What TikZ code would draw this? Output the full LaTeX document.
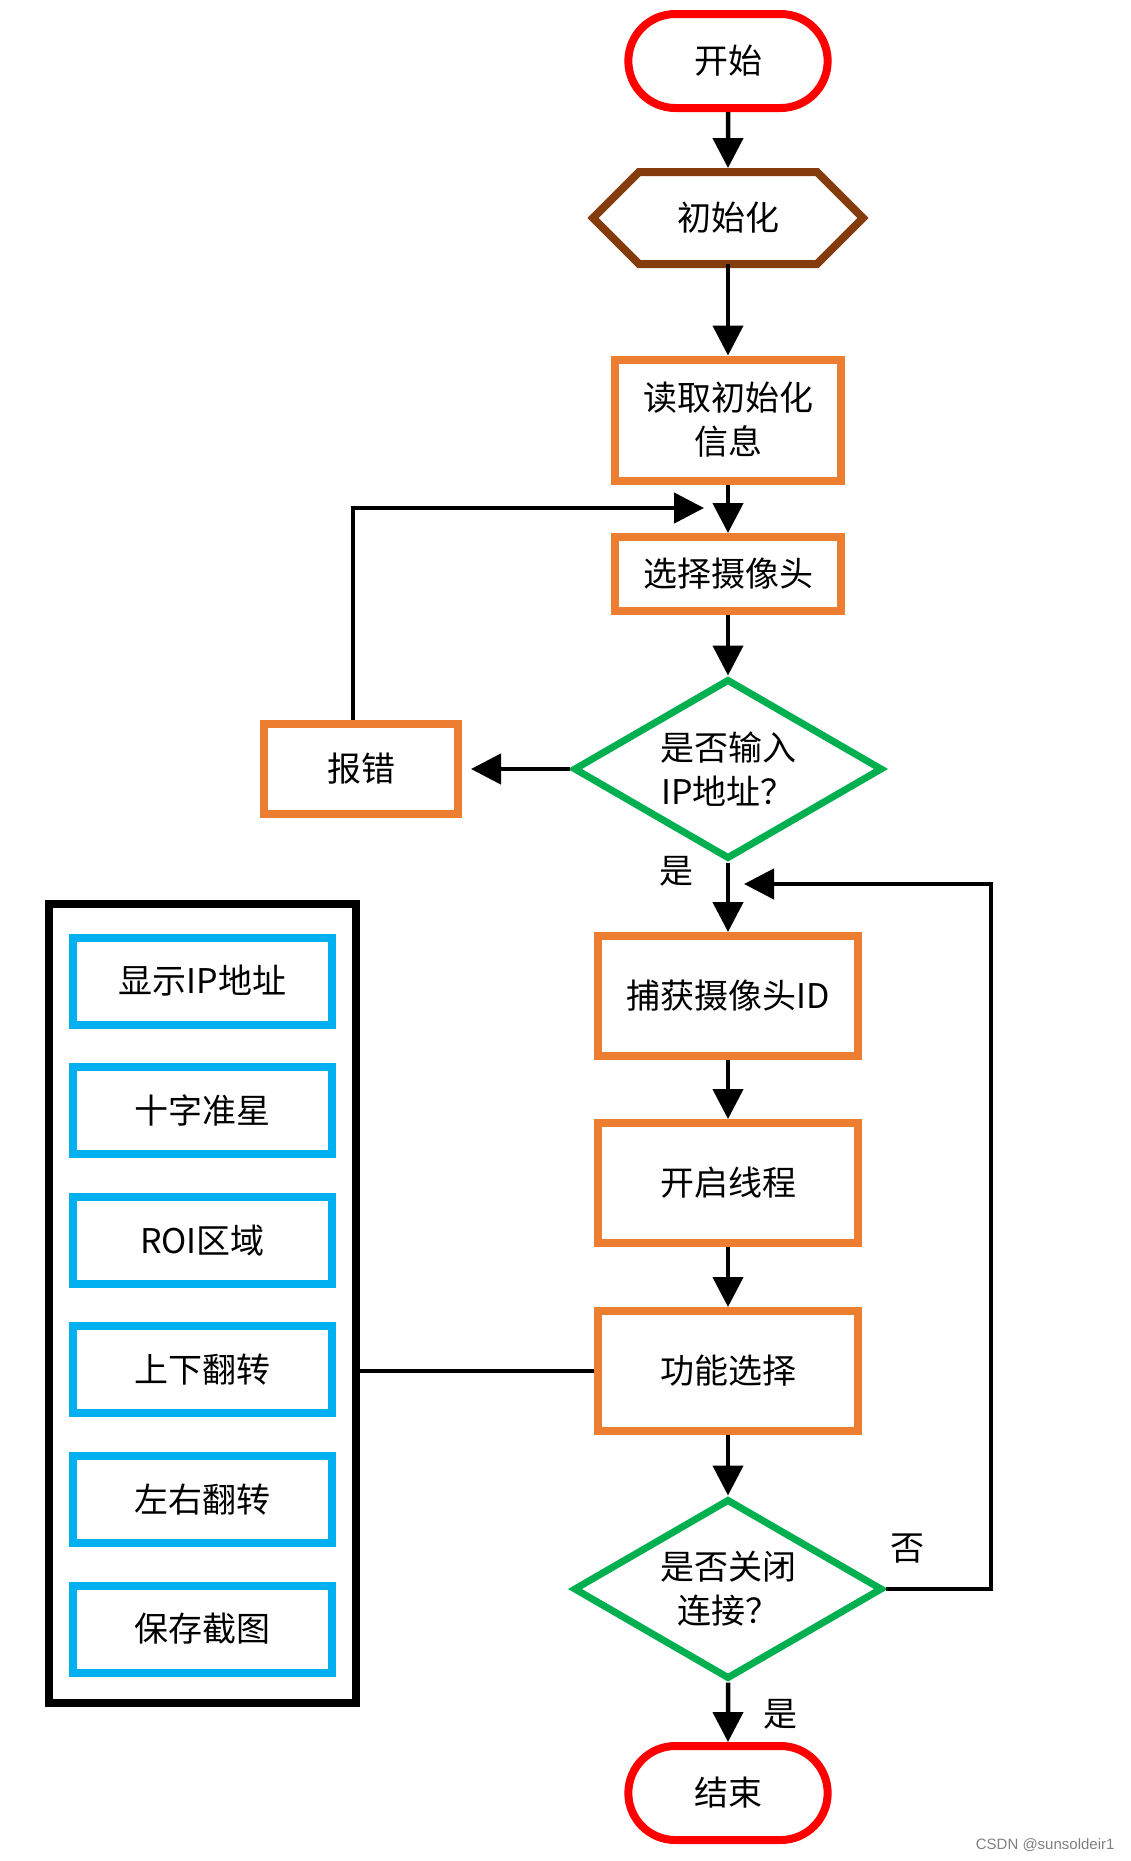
\documentclass[tikz,border=0pt]{standalone}
\usepackage{fontspec}
\setmainfont{Noto Sans CJK SC}
\newfontfamily\wmfont{Liberation Sans}
\usetikzlibrary{arrows.meta, positioning, shapes.geometric, shapes.misc, calc}
\definecolor{termred}{HTML}{FF0000}
\definecolor{initbrown}{HTML}{843C0C}
\definecolor{procorange}{HTML}{ED7D31}
\definecolor{decgreen}{HTML}{00B050}
\definecolor{funcblue}{HTML}{00B0F0}
\tikzset{
    term/.style={draw=termred, rounded rectangle, line width=8pt, minimum width=206pt, minimum height=94pt},
    proc/.style={draw=procorange, line width=8pt, align=center},
    dec/.style={draw=decgreen, diamond, aspect=1.72, line width=7pt, minimum width=309pt, minimum height=180pt, inner sep=0pt, align=center},
    funcbox/.style={draw=funcblue, line width=8pt, minimum width=259pt, minimum height=87pt},
    flow/.style={line width=4.5pt, -{Triangle[length=30pt, width=30pt]}},
}

\begin{document}
\begin{tikzpicture}[x=1pt, y=-1pt, font=\fontsize{34}{44}\selectfont]
    \useasboundingbox (0,0) rectangle (1131,1861);
    % main column
    \node[term] (start) at (728,61) {开始};
    \node[minimum width=270pt, minimum height=92pt, outer sep=0pt] (init) at (728,218) {初始化};
    \draw[draw=initbrown, line width=8pt] (init.west) -- ([xshift=46pt]init.north west) -- ([xshift=-46pt]init.north east)
        -- (init.east) -- ([xshift=-46pt]init.south east) -- ([xshift=46pt]init.south west) -- cycle;
    \node[proc, minimum width=226pt, minimum height=121pt] (read) at (728,420) {读取初始化\\信息};
    \node[proc, minimum width=226pt, minimum height=74pt] (select) at (728,574) {选择摄像头};
    \node[dec] (ipq) at (728,769) {是否输入\\IP地址？};
    \node[proc, minimum width=194pt, minimum height=90pt] (err) at (361,769) {报错};
    \node[proc, minimum width=260pt, minimum height=120pt] (cap) at (728,996) {捕获摄像头ID};
    \node[proc, minimum width=260pt, minimum height=120pt] (thread) at (728,1183) {开启线程};
    \node[proc, minimum width=260pt, minimum height=120pt] (func) at (728,1371) {功能选择};
    \node[dec] (closeq) at (728,1589) {是否关闭\\连接？};
    \node[term] (stop) at (728,1793) {结束};

    % function panel
    \node[draw, line width=8pt, minimum width=307pt, minimum height=799pt] (panel) at (202.5,1303.5) {};
    \foreach \txt [count=\i] in {显示IP地址, 十字准星, ROI区域, 上下翻转, 左右翻转, 保存截图}
        \node[funcbox] (f\i) at (202.5, 851.4+129.6*\i) {\txt};

    % connectors
    \coordinate (errin) at (704,508);
    \coordinate (backin) at (744,884);
    \coordinate (backtop) at (991,884);
    \draw[flow, shorten >=4pt] (start) -- (init);
    \draw[flow] (init) -- (read);
    \draw[flow] (read) -- (select);
    \draw[flow] (select) -- (ipq);
    \draw[flow, shorten >=9pt] (ipq) -- (err);
    \draw[flow] ([xshift=-8pt]err.north) |- (errin);
    \draw[flow] (ipq) -- node[pos=0.13, xshift=-52pt] {是} (cap);
    \draw[flow] (cap) -- (thread);
    \draw[flow] (thread) -- (func);
    \draw[flow] (func) -- (closeq);
    \draw[flow] (closeq) -- node[pos=0.54, xshift=52pt] {是} (stop);
    \draw[flow] (closeq.east) -| node[pos=0.1, yshift=40pt] {否} (backtop) -- (backin);
    \draw[line width=4.5pt] (func.west) -- (func.west -| panel.east);

    \node[font=\wmfont\fontsize{15}{18}\selectfont, text=gray, anchor=east] (wm) at (1118,1845) {CSDN @sunsoldeir1};
\end{tikzpicture}
\end{document}
